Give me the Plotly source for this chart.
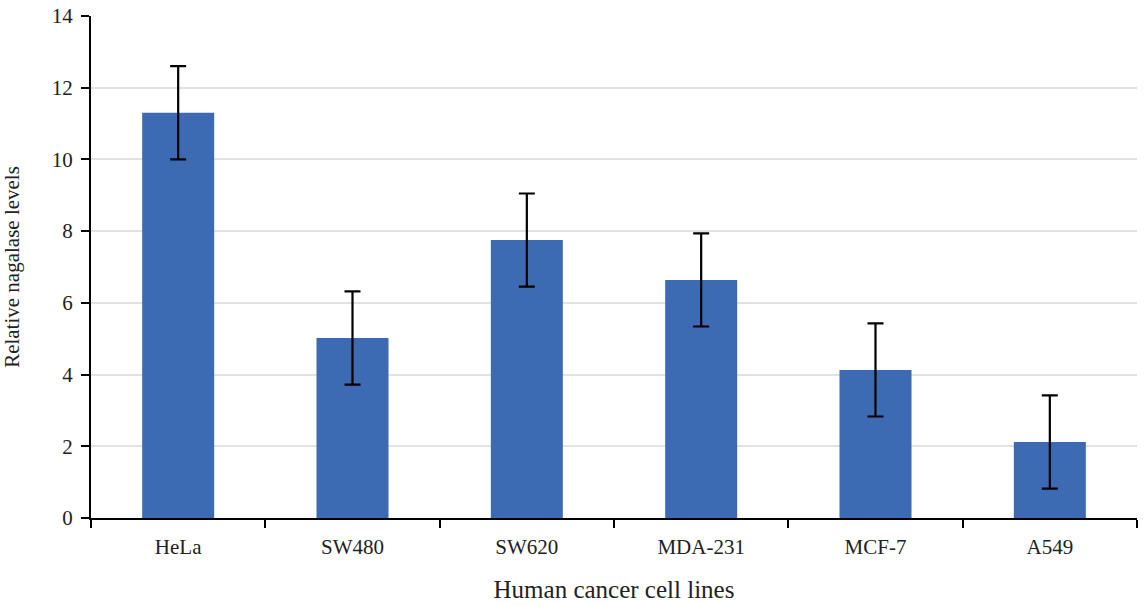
import plotly.graph_objects as go

cell_lines = ["HeLa", "SW480", "SW620", "MDA-231", "MCF-7", "A549"]
nagalase = [11.3, 5.02, 7.75, 6.64, 4.13, 2.12]
err = [1.3, 1.3, 1.3, 1.3, 1.3, 1.3]

fig = go.Figure()
fig.add_trace(go.Bar(
    x=cell_lines, y=nagalase,
    marker=dict(color="#3D6BB3", line=dict(width=0)),
    error_y=dict(type="data", array=err, color="black", thickness=2.2, width=8),
    showlegend=False,
))

fig.update_layout(
    width=1144, height=606,
    margin=dict(l=91, r=7, t=16, b=88),
    paper_bgcolor="white", plot_bgcolor="white",
    bargap=0.587,
    font=dict(family="Liberation Serif", color="#222222", size=21),
)
fig.update_xaxes(
    automargin=False,
    showline=True, linecolor="black", linewidth=2,
    ticks="outside", tickson="boundaries", ticklen=8, tickwidth=2, tickcolor="black",
    ticklabelstandoff=9,
    tickfont=dict(size=21),
    title=dict(text="Human cancer cell lines", font=dict(size=25), standoff=22),
)
fig.update_yaxes(
    automargin=False,
    range=[0, 14], dtick=2,
    showline=True, linecolor="black", linewidth=2,
    ticks="outside", ticklen=8, tickwidth=2, tickcolor="black",
    ticklabelstandoff=4, ticklabeloverflow="allow",
    gridcolor="#e2e2e2", gridwidth=1.5, zeroline=False,
    tickfont=dict(size=21),
    title=dict(text="Relative nagalase levels", font=dict(size=21), standoff=36),
)

# drop the default 8px page margin so the figure sits at the window corner
fig.write_html("out.html", config={"displayModeBar": False},
               post_script="document.body.style.margin='0';")
